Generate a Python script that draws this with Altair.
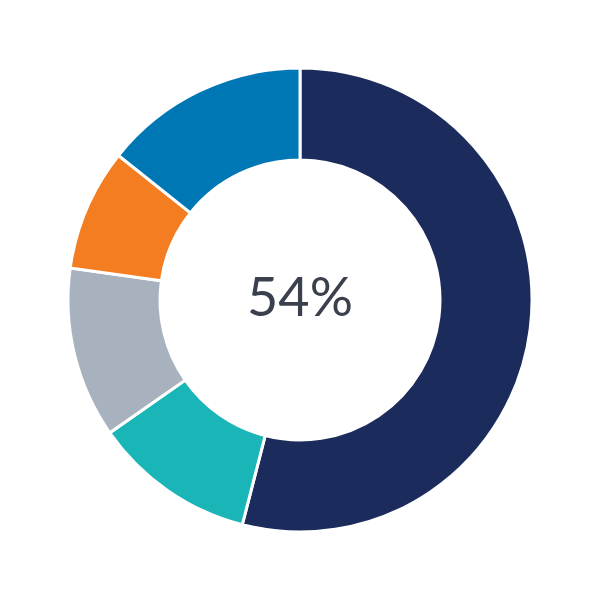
import pandas as pd
import altair as alt

# slice shares (percent), clockwise from 12 o'clock
segments = ['Navy', 'Teal', 'Gray', 'Orange', 'Blue']
shares = [54.0, 11.3, 11.9, 8.5, 14.3]
colors = ['#1b2b5b', '#1ab5b7', '#a8b2bf', '#f37d20', '#0077b5']
center_label = '54%'

df = pd.DataFrame({'segment': segments, 'share': shares, 'order': range(len(segments))})

donut = alt.Chart(df).mark_arc(
    outerRadius=232, innerRadius=140, stroke='white', strokeWidth=3
).encode(
    theta=alt.Theta('share:Q', stack=True),
    order=alt.Order('order:Q'),
    color=alt.Color('segment:N', scale=alt.Scale(domain=segments, range=colors), legend=None)
)

label = alt.Chart(pd.DataFrame({'t': [center_label]})).mark_text(
    font='Lato', fontSize=54, color='#3a414d', align='center', baseline='middle'
).encode(text='t:N')

chart = (donut + label).properties(
    width=584, height=584, padding=0, autosize=alt.AutoSizeParams(type='none')
).configure_view(stroke=None)

chart.save("out.html", embed_options={"renderer": "svg", "actions": False})
